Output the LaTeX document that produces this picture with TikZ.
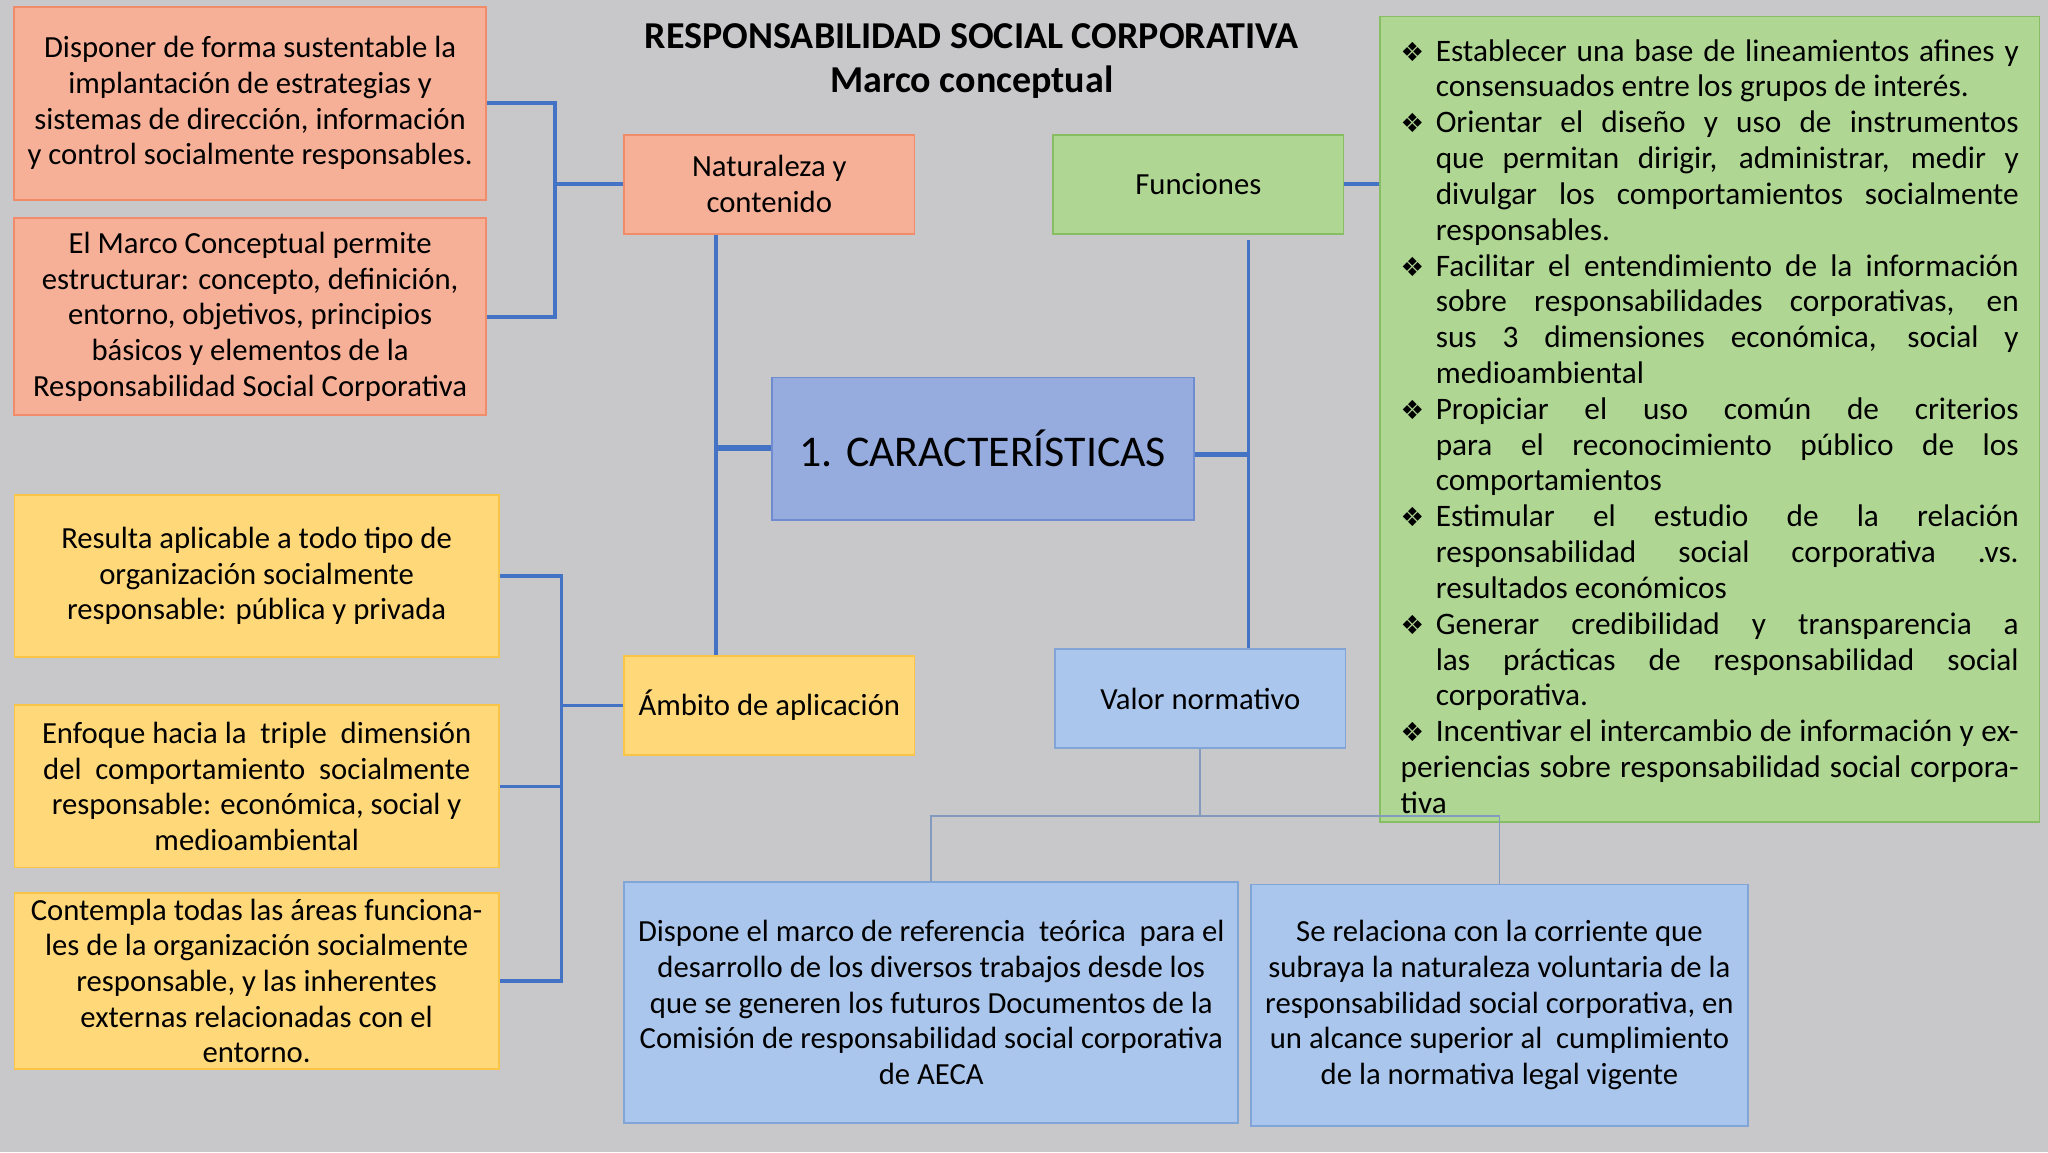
\documentclass[tikz,border=0pt]{standalone}
\usepackage{fontspec}
\setmainfont{Carlito}
\newfontfamily\dejavu{DejaVu Sans}
\usetikzlibrary{calc}
\definecolor{linea}{RGB}{68,114,196}
\definecolor{fondo}{RGB}{200,200,202}
\definecolor{salmon}{RGB}{246,176,152}
\definecolor{salmonb}{RGB}{240,140,105}
\definecolor{amarillo}{RGB}{255,216,122}
\definecolor{amarillob}{RGB}{250,196,70}
\definecolor{verde}{RGB}{176,214,148}
\definecolor{verdeb}{RGB}{135,190,100}
\definecolor{azul}{RGB}{150,172,222}
\definecolor{azulb}{RGB}{112,140,208}
\definecolor{celeste}{RGB}{170,198,236}
\definecolor{celesteb}{RGB}{130,165,215}
\tikzset{
	caja/.style={draw, line width=0.6pt, align=center, inner sep=2pt,
		font=\fontsize{10.5}{12.2}\selectfont},
	naranja/.style={caja, fill=salmon, draw=salmonb},
	amar/.style={caja, fill=amarillo, draw=amarillob},
	verd/.style={caja, fill=verde, draw=verdeb},
	azl/.style={caja, fill=azul, draw=azulb},
	cel/.style={caja, fill=celeste, draw=celesteb},
	rama/.style={draw=linea, line width=1.2pt},
	fina/.style={draw=celesteb!70!gray, line width=0.6pt}
}
\newcommand{\itm}[1]{\par\hangindent=12pt\hangafter=1\noindent\makebox[12pt][l]{\dejavu\small ❖}#1}
\begin{document}
\begin{tikzpicture}[x=0.0157cm, y=-0.0157cm]
	\fill[fondo] (0,0) rectangle (1568,882);
	
	% titulo
	\node[font=\fontsize{13}{16}\selectfont\bfseries] (tit1) at (744,28) {RESPONSABILIDAD SOCIAL CORPORATIVA};
	\node[font=\fontsize{13}{16}\selectfont\bfseries] (tit2) at (744,63) {Marco conceptual};
	
	%%%%     NATURALEZA     %%%%
	\node[naranja, minimum width=5.67cm, minimum height=2.32cm] (n1) at (191.5,79)
		{Disponer de forma sustentable la\\ implantación de estrategias y\\ sistemas de dirección, información\\ y control socialmente responsables.};
	\node[naranja, minimum width=5.67cm, minimum height=2.37cm] (n2) at (191.5,242.5)
		{El Marco Conceptual permite\\ estructurar: concepto, definición,\\ entorno, objetivos, principios\\ básicos y elementos de la\\ Responsabilidad Social Corporativa};
	\node[naranja, minimum width=3.49cm, minimum height=1.19cm] (nat) at (589,141) {Naturaleza y\\ contenido};
	
	%%%%     FUNCIONES     %%%%
	\node[verd, minimum width=3.49cm, minimum height=1.19cm] (fun) at (917.5,141) {Funciones};
	\node[verd, anchor=north, text width=7.43cm, inner xsep=0.25cm, inner ysep=3pt, align=justify,
		font=\fontsize{10.7}{12.25}\selectfont] (lista) at (1309,12) {%
		\hyphenpenalty=10000\exhyphenpenalty=10000\emergencystretch=3em\relax
		\itm{Establecer una base de lineamientos afines y consensuados entre los grupos de interés.}
		\itm{Orientar el diseño y uso de instrumentos que permitan dirigir, administrar, medir y divulgar los comportamientos socialmente responsables.}
		\itm{Facilitar el entendimiento de la información sobre responsabilidades corporativas, en sus 3 dimensiones económica, social y medioambiental}
		\itm{Propiciar el uso común de criterios para el reconocimiento público de los comportamientos}
		\itm{Estimular el estudio de la relación responsabilidad social corporativa .vs. resultados económicos}
		\itm{Generar credibilidad y transparencia a las prácticas de responsabilidad social corporativa.}
		\itm{Incentivar el intercambio de información y experiencias sobre responsabilidad social corporativa}};
	
	%%%%     CENTRO     %%%%
	\node[azl, minimum width=5.07cm, minimum height=1.71cm, font=\fontsize{15}{18}\selectfont] (car) at (752.5,343.5) {1. CARACTERÍSTICAS};
	
	%%%%     AMBITO     %%%%
	\node[amar, minimum width=5.82cm, minimum height=1.95cm] (a1) at (196.5,441)
		{Resulta aplicable a todo tipo de\\ organización socialmente\\ responsable: pública y privada};
	\node[amar, minimum width=5.82cm, minimum height=1.95cm] (a2) at (196.5,602)
		{Enfoque hacia la \ triple \ dimensión\\ del \ comportamiento \ socialmente\\ responsable: económica, social y\\ medioambiental};
	\node[amar, minimum width=5.82cm, minimum height=2.10cm] (a3) at (196.5,751)
		{Contempla todas las áreas funciona-\\les de la organización socialmente\\ responsable, y las inherentes\\ externas relacionadas con el\\ entorno.};
	\node[amar, minimum width=3.49cm, minimum height=1.19cm] (amb) at (589,540) {Ámbito de aplicación};
	
	%%%%     VALOR NORMATIVO     %%%%
	\node[cel, minimum width=3.49cm, minimum height=1.19cm] (val) at (919,535) {Valor normativo};
	\node[cel, minimum width=7.38cm, minimum height=2.90cm] (v1) at (713,767.5)
		{Dispone el marco de referencia \ teórica \ para el\\ desarrollo de los diversos trabajos desde los\\ que se generen los futuros Documentos de la\\ Comisión de responsabilidad social corporativa\\ de AECA};
	\node[cel, minimum width=5.97cm, minimum height=2.90cm] (v2) at (1148,769.5)
		{Se relaciona con la corriente que\\ subraya la naturaleza voluntaria de la\\ responsabilidad social corporativa, en\\ un alcance superior al \ cumplimiento\\ de la normativa legal vigente};
	
	%%%%     CONECTORES     %%%%
	\coordinate (jn) at (425,141);
	\coordinate (ja) at (430,540);
	\coordinate (jc) at (548,343);
	\coordinate (jf) at (956,348);
	\coordinate (jv) at (919,625);
	
	\draw[rama] (n1.east) -| (jn) |- (n2.east);
	\draw[rama] (jn) -- (nat.west);
	\draw[rama] (a1.east) -| (ja) |- (a3.east);
	\draw[rama] (a2.east) -- (a2.east -| ja);
	\draw[rama] (ja) -- (amb.west);
	\draw[rama] (nat.south -| jc) -- (amb.north -| jc);
	\draw[rama, line width=2pt] (jc) -- (jc -| car.west);
	\draw[rama] (fun.south -| jf) ++(0,4) -- (val.north -| jf);
	\draw[rama, line width=2pt] (jf -| car.east) -- (jf);
	\draw[rama] (fun.east) -- (lista.west |- fun.east);
	\draw[fina] (val.south) -- (jv) -- (jv -| v1.north) -- (v1.north);
	\draw[fina] (jv) -- (jv -| v2.north) -- (v2.north);
\end{tikzpicture}
\end{document}
